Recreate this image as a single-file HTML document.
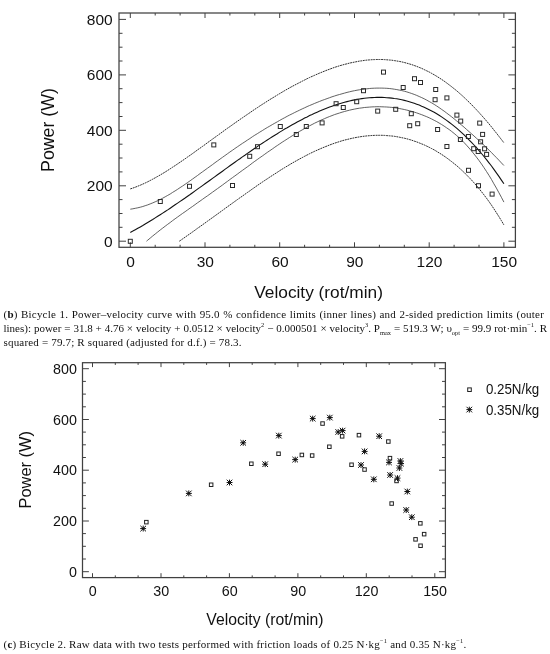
<!DOCTYPE html>
<html><head><meta charset="utf-8"><title>Figure</title>
<style>
html,body{margin:0;padding:0;background:#fff}
#wrap{position:relative;width:550px;height:654px;overflow:hidden;background:#fff}
svg{position:absolute;left:0;top:0}
svg text{font-family:"Liberation Sans",Arial,Helvetica,sans-serif;fill:#111}
.cap{position:absolute;left:3.5px;width:543px;font-family:"Liberation Serif","Times New Roman",serif;font-size:11px;line-height:14px;color:#111;white-space:nowrap;text-align:justify;text-align-last:justify}
.cap.last{text-align-last:left;text-align:left}
.cap sup,.cap sub{font-size:6.4px;line-height:0}
</style></head><body>
<div id="wrap">
<svg width="550" height="654" viewBox="0 0 550 654">
<rect x="119.0" y="13.0" width="396.4" height="234.3" fill="none" stroke="#404040" stroke-width="1.25"/>
<path d="M130.3 247.3 v-5 M130.3 13.0 v5 M155.2 247.3 v-2.5 M155.2 13.0 v2.5 M180.1 247.3 v-2.5 M180.1 13.0 v2.5 M205.0 247.3 v-5 M205.0 13.0 v5 M229.9 247.3 v-2.5 M229.9 13.0 v2.5 M254.8 247.3 v-2.5 M254.8 13.0 v2.5 M279.7 247.3 v-5 M279.7 13.0 v5 M304.6 247.3 v-2.5 M304.6 13.0 v2.5 M329.6 247.3 v-2.5 M329.6 13.0 v2.5 M354.5 247.3 v-5 M354.5 13.0 v5 M379.4 247.3 v-2.5 M379.4 13.0 v2.5 M404.3 247.3 v-2.5 M404.3 13.0 v2.5 M429.2 247.3 v-5 M429.2 13.0 v5 M454.1 247.3 v-2.5 M454.1 13.0 v2.5 M479.0 247.3 v-2.5 M479.0 13.0 v2.5 M503.9 247.3 v-5 M503.9 13.0 v5 M119.0 241.2 h7 M515.4 241.2 h-7 M119.0 227.3 h3.5 M515.4 227.3 h-3.5 M119.0 213.5 h3.5 M515.4 213.5 h-3.5 M119.0 199.6 h3.5 M515.4 199.6 h-3.5 M119.0 185.8 h7 M515.4 185.8 h-7 M119.0 171.9 h3.5 M515.4 171.9 h-3.5 M119.0 158.0 h3.5 M515.4 158.0 h-3.5 M119.0 144.2 h3.5 M515.4 144.2 h-3.5 M119.0 130.3 h7 M515.4 130.3 h-7 M119.0 116.5 h3.5 M515.4 116.5 h-3.5 M119.0 102.6 h3.5 M515.4 102.6 h-3.5 M119.0 88.7 h3.5 M515.4 88.7 h-3.5 M119.0 74.9 h7 M515.4 74.9 h-7 M119.0 61.0 h3.5 M515.4 61.0 h-3.5 M119.0 47.2 h3.5 M515.4 47.2 h-3.5 M119.0 33.3 h3.5 M515.4 33.3 h-3.5 M119.0 19.4 h7 M515.4 19.4 h-7" fill="none" stroke="#404040" stroke-width="1"/>
<path d="M130.3 188.9 L132.8 188.1 L135.3 187.2 L137.8 186.2 L140.3 185.2 L142.8 184.1 L145.2 183.0 L147.7 181.8 L150.2 180.5 L152.7 179.2 L155.2 177.8 L157.7 176.4 L160.2 175.0 L162.7 173.5 L165.2 172.0 L167.7 170.4 L170.2 168.8 L172.6 167.2 L175.1 165.6 L177.6 163.9 L180.1 162.2 L182.6 160.5 L185.1 158.8 L187.6 157.0 L190.1 155.3 L192.6 153.5 L195.1 151.7 L197.5 149.9 L200.0 148.2 L202.5 146.4 L205.0 144.6 L207.5 142.7 L210.0 140.9 L212.5 139.1 L215.0 137.3 L217.5 135.5 L220.0 133.7 L222.5 131.9 L224.9 130.1 L227.4 128.3 L229.9 126.6 L232.4 124.8 L234.9 123.0 L237.4 121.3 L239.9 119.5 L242.4 117.8 L244.9 116.1 L247.4 114.4 L249.9 112.7 L252.3 111.0 L254.8 109.3 L257.3 107.7 L259.8 106.0 L262.3 104.4 L264.8 102.8 L267.3 101.2 L269.8 99.6 L272.3 98.1 L274.8 96.6 L277.3 95.0 L279.7 93.6 L282.2 92.1 L284.7 90.6 L287.2 89.2 L289.7 87.8 L292.2 86.4 L294.7 85.1 L297.2 83.8 L299.7 82.5 L302.2 81.2 L304.6 80.0 L307.1 78.7 L309.6 77.5 L312.1 76.4 L314.6 75.3 L317.1 74.2 L319.6 73.1 L322.1 72.1 L324.6 71.1 L327.1 70.1 L329.6 69.2 L332.0 68.3 L334.5 67.4 L337.0 66.6 L339.5 65.8 L342.0 65.1 L344.5 64.4 L347.0 63.8 L349.5 63.1 L352.0 62.6 L354.5 62.1 L357.0 61.6 L359.4 61.1 L361.9 60.8 L364.4 60.4 L366.9 60.1 L369.4 59.9 L371.9 59.7 L374.4 59.6 L376.9 59.5 L379.4 59.5 L381.9 59.5 L384.4 59.6 L386.8 59.8 L389.3 60.0 L391.8 60.2 L394.3 60.6 L396.8 61.0 L399.3 61.4 L401.8 61.9 L404.3 62.5 L406.8 63.2 L409.3 63.9 L411.7 64.6 L414.2 65.5 L416.7 66.4 L419.2 67.4 L421.7 68.4 L424.2 69.6 L426.7 70.8 L429.2 72.0 L431.7 73.4 L434.2 74.8 L436.7 76.3 L439.1 77.8 L441.6 79.4 L444.1 81.1 L446.6 82.9 L449.1 84.8 L451.6 86.7 L454.1 88.7 L456.6 90.7 L459.1 92.9 L461.6 95.1 L464.1 97.4 L466.5 99.7 L469.0 102.1 L471.5 104.6 L474.0 107.2 L476.5 109.8 L479.0 112.5 L481.5 115.3 L484.0 118.1 L486.5 121.0 L489.0 123.9 L491.5 126.9 L493.9 130.0 L496.4 133.1 L498.9 136.3 L501.4 139.5 L503.9 142.8" fill="none" stroke="#222" stroke-width="0.95" stroke-dasharray="1.9 0.7"/>
<path d="M179.3 241.2 L180.1 240.7 L182.6 238.9 L185.1 237.2 L187.6 235.4 L190.1 233.7 L192.6 231.9 L195.1 230.1 L197.5 228.3 L200.0 226.6 L202.5 224.8 L205.0 223.0 L207.5 221.2 L210.0 219.4 L212.5 217.6 L215.0 215.8 L217.5 214.0 L220.0 212.2 L222.5 210.4 L224.9 208.6 L227.4 206.8 L229.9 205.0 L232.4 203.2 L234.9 201.4 L237.4 199.6 L239.9 197.8 L242.4 196.1 L244.9 194.3 L247.4 192.5 L249.9 190.8 L252.3 189.0 L254.8 187.3 L257.3 185.5 L259.8 183.8 L262.3 182.1 L264.8 180.4 L267.3 178.8 L269.8 177.1 L272.3 175.5 L274.8 173.9 L277.3 172.3 L279.7 170.7 L282.2 169.1 L284.7 167.6 L287.2 166.1 L289.7 164.6 L292.2 163.1 L294.7 161.7 L297.2 160.3 L299.7 158.9 L302.2 157.6 L304.6 156.3 L307.1 155.0 L309.6 153.7 L312.1 152.5 L314.6 151.3 L317.1 150.2 L319.6 149.1 L322.1 148.0 L324.6 147.0 L327.1 146.0 L329.6 145.0 L332.0 144.1 L334.5 143.2 L337.0 142.4 L339.5 141.6 L342.0 140.8 L344.5 140.1 L347.0 139.5 L349.5 138.9 L352.0 138.3 L354.5 137.8 L357.0 137.3 L359.4 136.9 L361.9 136.5 L364.4 136.2 L366.9 135.9 L369.4 135.7 L371.9 135.5 L374.4 135.4 L376.9 135.3 L379.4 135.3 L381.9 135.3 L384.4 135.4 L386.8 135.6 L389.3 135.8 L391.8 136.0 L394.3 136.3 L396.8 136.7 L399.3 137.2 L401.8 137.7 L404.3 138.2 L406.8 138.8 L409.3 139.5 L411.7 140.2 L414.2 141.1 L416.7 141.9 L419.2 142.9 L421.7 143.9 L424.2 144.9 L426.7 146.1 L429.2 147.3 L431.7 148.6 L434.2 149.9 L436.7 151.4 L439.1 152.9 L441.6 154.4 L444.1 156.1 L446.6 157.8 L449.1 159.7 L451.6 161.6 L454.1 163.6 L456.6 165.6 L459.1 167.8 L461.6 170.1 L464.1 172.4 L466.5 174.9 L469.0 177.4 L471.5 180.0 L474.0 182.8 L476.5 185.7 L479.0 188.6 L481.5 191.7 L484.0 194.9 L486.5 198.2 L489.0 201.6 L491.5 205.2 L493.9 208.8 L496.4 212.7 L498.9 216.6 L501.4 220.7 L503.9 224.9" fill="none" stroke="#222" stroke-width="0.95" stroke-dasharray="1.9 0.7"/>
<path d="M130.3 209.2 L132.8 208.8 L135.3 208.3 L137.8 207.8 L140.3 207.2 L142.8 206.5 L145.2 205.7 L147.7 204.9 L150.2 203.9 L152.7 202.9 L155.2 201.8 L157.7 200.7 L160.2 199.5 L162.7 198.2 L165.2 196.8 L167.7 195.4 L170.2 194.0 L172.6 192.4 L175.1 190.9 L177.6 189.3 L180.1 187.6 L182.6 186.0 L185.1 184.3 L187.6 182.5 L190.1 180.8 L192.6 179.0 L195.1 177.2 L197.5 175.5 L200.0 173.6 L202.5 171.8 L205.0 170.0 L207.5 168.2 L210.0 166.4 L212.5 164.6 L215.0 162.7 L217.5 160.9 L220.0 159.1 L222.5 157.3 L224.9 155.6 L227.4 153.8 L229.9 152.0 L232.4 150.3 L234.9 148.5 L237.4 146.8 L239.9 145.1 L242.4 143.4 L244.9 141.8 L247.4 140.1 L249.9 138.5 L252.3 136.8 L254.8 135.2 L257.3 133.7 L259.8 132.1 L262.3 130.6 L264.8 129.0 L267.3 127.5 L269.8 126.1 L272.3 124.6 L274.8 123.2 L277.3 121.8 L279.7 120.4 L282.2 119.0 L284.7 117.7 L287.2 116.3 L289.7 115.0 L292.2 113.8 L294.7 112.5 L297.2 111.3 L299.7 110.1 L302.2 108.9 L304.6 107.8 L307.1 106.6 L309.6 105.5 L312.1 104.5 L314.6 103.4 L317.1 102.4 L319.6 101.4 L322.1 100.4 L324.6 99.5 L327.1 98.6 L329.6 97.7 L332.0 96.8 L334.5 96.0 L337.0 95.2 L339.5 94.5 L342.0 93.8 L344.5 93.1 L347.0 92.4 L349.5 91.8 L352.0 91.2 L354.5 90.7 L357.0 90.2 L359.4 89.8 L361.9 89.4 L364.4 89.1 L366.9 88.8 L369.4 88.5 L371.9 88.3 L374.4 88.2 L376.9 88.1 L379.4 88.1 L381.9 88.1 L384.4 88.2 L386.8 88.3 L389.3 88.5 L391.8 88.8 L394.3 89.2 L396.8 89.6 L399.3 90.1 L401.8 90.6 L404.3 91.2 L406.8 91.9 L409.3 92.7 L411.7 93.5 L414.2 94.4 L416.7 95.4 L419.2 96.5 L421.7 97.6 L424.2 98.8 L426.7 100.1 L429.2 101.5 L431.7 102.9 L434.2 104.4 L436.7 106.0 L439.1 107.6 L441.6 109.4 L444.1 111.1 L446.6 113.0 L449.1 114.9 L451.6 116.8 L454.1 118.8 L456.6 120.9 L459.1 123.0 L461.6 125.1 L464.1 127.2 L466.5 129.4 L469.0 131.6 L471.5 133.8 L474.0 136.0 L476.5 138.3 L479.0 140.6 L481.5 142.9 L484.0 145.3 L486.5 147.7 L489.0 150.1 L491.5 152.6 L493.9 155.1 L496.4 157.6 L498.9 160.2 L501.4 162.9 L503.9 165.5" fill="none" stroke="#3a3a3a" stroke-width="0.8"/>
<path d="M146.5 241.2 L147.7 240.2 L150.2 238.1 L152.7 236.0 L155.2 234.0 L157.7 232.0 L160.2 230.0 L162.7 228.1 L165.2 226.2 L167.7 224.3 L170.2 222.5 L172.6 220.6 L175.1 218.8 L177.6 217.0 L180.1 215.2 L182.6 213.4 L185.1 211.7 L187.6 209.9 L190.1 208.1 L192.6 206.4 L195.1 204.6 L197.5 202.8 L200.0 201.1 L202.5 199.3 L205.0 197.5 L207.5 195.8 L210.0 194.0 L212.5 192.2 L215.0 190.4 L217.5 188.6 L220.0 186.8 L222.5 185.0 L224.9 183.2 L227.4 181.4 L229.9 179.5 L232.4 177.7 L234.9 175.9 L237.4 174.1 L239.9 172.2 L242.4 170.4 L244.9 168.6 L247.4 166.8 L249.9 165.0 L252.3 163.1 L254.8 161.3 L257.3 159.5 L259.8 157.7 L262.3 156.0 L264.8 154.2 L267.3 152.4 L269.8 150.7 L272.3 149.0 L274.8 147.2 L277.3 145.5 L279.7 143.9 L282.2 142.2 L284.7 140.6 L287.2 139.0 L289.7 137.4 L292.2 135.8 L294.7 134.3 L297.2 132.8 L299.7 131.3 L302.2 129.9 L304.6 128.5 L307.1 127.1 L309.6 125.8 L312.1 124.5 L314.6 123.2 L317.1 122.0 L319.6 120.8 L322.1 119.7 L324.6 118.6 L327.1 117.5 L329.6 116.5 L332.0 115.6 L334.5 114.6 L337.0 113.8 L339.5 113.0 L342.0 112.2 L344.5 111.5 L347.0 110.8 L349.5 110.2 L352.0 109.6 L354.5 109.1 L357.0 108.6 L359.4 108.2 L361.9 107.9 L364.4 107.5 L366.9 107.3 L369.4 107.1 L371.9 106.9 L374.4 106.8 L376.9 106.7 L379.4 106.7 L381.9 106.8 L384.4 106.9 L386.8 107.0 L389.3 107.2 L391.8 107.4 L394.3 107.7 L396.8 108.1 L399.3 108.5 L401.8 109.0 L404.3 109.5 L406.8 110.1 L409.3 110.7 L411.7 111.4 L414.2 112.1 L416.7 112.9 L419.2 113.8 L421.7 114.7 L424.2 115.7 L426.7 116.7 L429.2 117.8 L431.7 119.0 L434.2 120.3 L436.7 121.6 L439.1 123.0 L441.6 124.5 L444.1 126.1 L446.6 127.8 L449.1 129.5 L451.6 131.4 L454.1 133.4 L456.6 135.5 L459.1 137.7 L461.6 140.1 L464.1 142.6 L466.5 145.2 L469.0 148.0 L471.5 150.9 L474.0 154.0 L476.5 157.2 L479.0 160.5 L481.5 164.0 L484.0 167.7 L486.5 171.5 L489.0 175.4 L491.5 179.5 L493.9 183.8 L496.4 188.1 L498.9 192.7 L501.4 197.3 L503.9 202.1" fill="none" stroke="#3a3a3a" stroke-width="0.8"/>
<path d="M130.3 232.4 L132.8 231.1 L135.3 229.7 L137.8 228.3 L140.3 226.9 L142.8 225.5 L145.2 224.0 L147.7 222.5 L150.2 221.0 L152.7 219.5 L155.2 217.9 L157.7 216.3 L160.2 214.7 L162.7 213.1 L165.2 211.5 L167.7 209.9 L170.2 208.2 L172.6 206.5 L175.1 204.8 L177.6 203.1 L180.1 201.4 L182.6 199.7 L185.1 198.0 L187.6 196.2 L190.1 194.5 L192.6 192.7 L195.1 190.9 L197.5 189.1 L200.0 187.4 L202.5 185.6 L205.0 183.8 L207.5 182.0 L210.0 180.2 L212.5 178.4 L215.0 176.6 L217.5 174.8 L220.0 173.0 L222.5 171.2 L224.9 169.4 L227.4 167.6 L229.9 165.8 L232.4 164.0 L234.9 162.2 L237.4 160.4 L239.9 158.7 L242.4 156.9 L244.9 155.2 L247.4 153.4 L249.9 151.7 L252.3 150.0 L254.8 148.3 L257.3 146.6 L259.8 144.9 L262.3 143.3 L264.8 141.6 L267.3 140.0 L269.8 138.4 L272.3 136.8 L274.8 135.2 L277.3 133.7 L279.7 132.1 L282.2 130.6 L284.7 129.1 L287.2 127.7 L289.7 126.2 L292.2 124.8 L294.7 123.4 L297.2 122.0 L299.7 120.7 L302.2 119.4 L304.6 118.1 L307.1 116.9 L309.6 115.6 L312.1 114.5 L314.6 113.3 L317.1 112.2 L319.6 111.1 L322.1 110.0 L324.6 109.0 L327.1 108.0 L329.6 107.1 L332.0 106.2 L334.5 105.3 L337.0 104.5 L339.5 103.7 L342.0 103.0 L344.5 102.3 L347.0 101.6 L349.5 101.0 L352.0 100.4 L354.5 99.9 L357.0 99.4 L359.4 99.0 L361.9 98.6 L364.4 98.3 L366.9 98.0 L369.4 97.8 L371.9 97.6 L374.4 97.5 L376.9 97.4 L379.4 97.4 L381.9 97.4 L384.4 97.5 L386.8 97.7 L389.3 97.9 L391.8 98.1 L394.3 98.5 L396.8 98.8 L399.3 99.3 L401.8 99.8 L404.3 100.4 L406.8 101.0 L409.3 101.7 L411.7 102.4 L414.2 103.3 L416.7 104.2 L419.2 105.1 L421.7 106.2 L424.2 107.2 L426.7 108.4 L429.2 109.7 L431.7 111.0 L434.2 112.3 L436.7 113.8 L439.1 115.3 L441.6 116.9 L444.1 118.6 L446.6 120.4 L449.1 122.2 L451.6 124.1 L454.1 126.1 L456.6 128.2 L459.1 130.3 L461.6 132.6 L464.1 134.9 L466.5 137.3 L469.0 139.8 L471.5 142.3 L474.0 145.0 L476.5 147.7 L479.0 150.6 L481.5 153.5 L484.0 156.5 L486.5 159.6 L489.0 162.8 L491.5 166.0 L493.9 169.4 L496.4 172.9 L498.9 176.4 L501.4 180.1 L503.9 183.8" fill="none" stroke="#111" stroke-width="1.1"/>
<rect x="128.3" y="239.3" width="4.0" height="4.0" fill="#fff" fill-opacity="0" stroke="#2b2b2b" stroke-width="1.0"/>
<rect x="158.3" y="199.5" width="4.0" height="4.0" fill="#fff" fill-opacity="0" stroke="#2b2b2b" stroke-width="1.0"/>
<rect x="187.5" y="184.3" width="4.0" height="4.0" fill="#fff" fill-opacity="0" stroke="#2b2b2b" stroke-width="1.0"/>
<rect x="211.8" y="142.9" width="4.0" height="4.0" fill="#fff" fill-opacity="0" stroke="#2b2b2b" stroke-width="1.0"/>
<rect x="230.5" y="183.5" width="4.0" height="4.0" fill="#fff" fill-opacity="0" stroke="#2b2b2b" stroke-width="1.0"/>
<rect x="247.7" y="154.3" width="4.0" height="4.0" fill="#fff" fill-opacity="0" stroke="#2b2b2b" stroke-width="1.0"/>
<rect x="255.5" y="144.7" width="4.0" height="4.0" fill="#fff" fill-opacity="0" stroke="#2b2b2b" stroke-width="1.0"/>
<rect x="278.3" y="124.5" width="4.0" height="4.0" fill="#fff" fill-opacity="0" stroke="#2b2b2b" stroke-width="1.0"/>
<rect x="294.3" y="132.5" width="4.0" height="4.0" fill="#fff" fill-opacity="0" stroke="#2b2b2b" stroke-width="1.0"/>
<rect x="304.3" y="124.5" width="4.0" height="4.0" fill="#fff" fill-opacity="0" stroke="#2b2b2b" stroke-width="1.0"/>
<rect x="320.1" y="120.9" width="4.0" height="4.0" fill="#fff" fill-opacity="0" stroke="#2b2b2b" stroke-width="1.0"/>
<rect x="334.1" y="101.7" width="4.0" height="4.0" fill="#fff" fill-opacity="0" stroke="#2b2b2b" stroke-width="1.0"/>
<rect x="341.3" y="105.5" width="4.0" height="4.0" fill="#fff" fill-opacity="0" stroke="#2b2b2b" stroke-width="1.0"/>
<rect x="354.7" y="99.7" width="4.0" height="4.0" fill="#fff" fill-opacity="0" stroke="#2b2b2b" stroke-width="1.0"/>
<rect x="361.5" y="88.7" width="4.0" height="4.0" fill="#fff" fill-opacity="0" stroke="#2b2b2b" stroke-width="1.0"/>
<rect x="375.7" y="109.1" width="4.0" height="4.0" fill="#fff" fill-opacity="0" stroke="#2b2b2b" stroke-width="1.0"/>
<rect x="381.5" y="70.1" width="4.0" height="4.0" fill="#fff" fill-opacity="0" stroke="#2b2b2b" stroke-width="1.0"/>
<rect x="393.7" y="107.3" width="4.0" height="4.0" fill="#fff" fill-opacity="0" stroke="#2b2b2b" stroke-width="1.0"/>
<rect x="401.2" y="85.5" width="4.0" height="4.0" fill="#fff" fill-opacity="0" stroke="#2b2b2b" stroke-width="1.0"/>
<rect x="412.5" y="76.7" width="4.0" height="4.0" fill="#fff" fill-opacity="0" stroke="#2b2b2b" stroke-width="1.0"/>
<rect x="418.5" y="80.5" width="4.0" height="4.0" fill="#fff" fill-opacity="0" stroke="#2b2b2b" stroke-width="1.0"/>
<rect x="409.3" y="111.7" width="4.0" height="4.0" fill="#fff" fill-opacity="0" stroke="#2b2b2b" stroke-width="1.0"/>
<rect x="407.7" y="123.7" width="4.0" height="4.0" fill="#fff" fill-opacity="0" stroke="#2b2b2b" stroke-width="1.0"/>
<rect x="415.7" y="121.7" width="4.0" height="4.0" fill="#fff" fill-opacity="0" stroke="#2b2b2b" stroke-width="1.0"/>
<rect x="433.7" y="87.5" width="4.0" height="4.0" fill="#fff" fill-opacity="0" stroke="#2b2b2b" stroke-width="1.0"/>
<rect x="433.1" y="97.7" width="4.0" height="4.0" fill="#fff" fill-opacity="0" stroke="#2b2b2b" stroke-width="1.0"/>
<rect x="444.9" y="95.9" width="4.0" height="4.0" fill="#fff" fill-opacity="0" stroke="#2b2b2b" stroke-width="1.0"/>
<rect x="435.6" y="127.5" width="4.0" height="4.0" fill="#fff" fill-opacity="0" stroke="#2b2b2b" stroke-width="1.0"/>
<rect x="454.9" y="113.1" width="4.0" height="4.0" fill="#fff" fill-opacity="0" stroke="#2b2b2b" stroke-width="1.0"/>
<rect x="458.7" y="119.1" width="4.0" height="4.0" fill="#fff" fill-opacity="0" stroke="#2b2b2b" stroke-width="1.0"/>
<rect x="444.9" y="144.5" width="4.0" height="4.0" fill="#fff" fill-opacity="0" stroke="#2b2b2b" stroke-width="1.0"/>
<rect x="458.4" y="137.5" width="4.0" height="4.0" fill="#fff" fill-opacity="0" stroke="#2b2b2b" stroke-width="1.0"/>
<rect x="466.4" y="134.5" width="4.0" height="4.0" fill="#fff" fill-opacity="0" stroke="#2b2b2b" stroke-width="1.0"/>
<rect x="477.7" y="121.1" width="4.0" height="4.0" fill="#fff" fill-opacity="0" stroke="#2b2b2b" stroke-width="1.0"/>
<rect x="480.6" y="132.4" width="4.0" height="4.0" fill="#fff" fill-opacity="0" stroke="#2b2b2b" stroke-width="1.0"/>
<rect x="478.6" y="139.8" width="4.0" height="4.0" fill="#fff" fill-opacity="0" stroke="#2b2b2b" stroke-width="1.0"/>
<rect x="471.7" y="146.7" width="4.0" height="4.0" fill="#fff" fill-opacity="0" stroke="#2b2b2b" stroke-width="1.0"/>
<rect x="476.2" y="149.5" width="4.0" height="4.0" fill="#fff" fill-opacity="0" stroke="#2b2b2b" stroke-width="1.0"/>
<rect x="482.6" y="146.8" width="4.0" height="4.0" fill="#fff" fill-opacity="0" stroke="#2b2b2b" stroke-width="1.0"/>
<rect x="484.6" y="152.4" width="4.0" height="4.0" fill="#fff" fill-opacity="0" stroke="#2b2b2b" stroke-width="1.0"/>
<rect x="466.5" y="168.3" width="4.0" height="4.0" fill="#fff" fill-opacity="0" stroke="#2b2b2b" stroke-width="1.0"/>
<rect x="476.5" y="183.7" width="4.0" height="4.0" fill="#fff" fill-opacity="0" stroke="#2b2b2b" stroke-width="1.0"/>
<rect x="490.1" y="192.1" width="4.0" height="4.0" fill="#fff" fill-opacity="0" stroke="#2b2b2b" stroke-width="1.0"/>
<text x="130.6" y="267.0" font-size="15.5" text-anchor="middle">0</text>
<text x="205.3" y="267.0" font-size="15.5" text-anchor="middle">30</text>
<text x="280.0" y="267.0" font-size="15.5" text-anchor="middle">60</text>
<text x="354.8" y="267.0" font-size="15.5" text-anchor="middle">90</text>
<text x="429.5" y="267.0" font-size="15.5" text-anchor="middle">120</text>
<text x="504.2" y="267.0" font-size="15.5" text-anchor="middle">150</text>
<text x="112.7" y="246.7" font-size="15.5" text-anchor="end">0</text>
<text x="112.7" y="191.3" font-size="15.5" text-anchor="end">200</text>
<text x="112.7" y="135.8" font-size="15.5" text-anchor="end">400</text>
<text x="112.7" y="80.4" font-size="15.5" text-anchor="end">600</text>
<text x="112.7" y="24.9" font-size="15.5" text-anchor="end">800</text>
<text x="318.6" y="298.0" font-size="17.3" text-anchor="middle">Velocity (rot/min)</text>
<text transform="translate(54.0 130.0) rotate(-90)" font-size="17.8" text-anchor="middle">Power (W)</text>
<rect x="82.5" y="362.7" width="362.9" height="214.9" fill="none" stroke="#404040" stroke-width="1.25"/>
<path d="M92.5 577.6 v-4.4 M92.5 362.7 v4.4 M115.3 577.6 v-2.2 M115.3 362.7 v2.2 M138.1 577.6 v-2.2 M138.1 362.7 v2.2 M161.0 577.6 v-4.4 M161.0 362.7 v4.4 M183.8 577.6 v-2.2 M183.8 362.7 v2.2 M206.6 577.6 v-2.2 M206.6 362.7 v2.2 M229.4 577.6 v-4.4 M229.4 362.7 v4.4 M252.2 577.6 v-2.2 M252.2 362.7 v2.2 M275.1 577.6 v-2.2 M275.1 362.7 v2.2 M297.9 577.6 v-4.4 M297.9 362.7 v4.4 M320.7 577.6 v-2.2 M320.7 362.7 v2.2 M343.5 577.6 v-2.2 M343.5 362.7 v2.2 M366.3 577.6 v-4.4 M366.3 362.7 v4.4 M389.2 577.6 v-2.2 M389.2 362.7 v2.2 M412.0 577.6 v-2.2 M412.0 362.7 v2.2 M434.8 577.6 v-4.4 M434.8 362.7 v4.4 M82.5 571.7 h6.4 M445.4 571.7 h-6.4 M82.5 559.0 h3.4 M445.4 559.0 h-3.4 M82.5 546.3 h3.4 M445.4 546.3 h-3.4 M82.5 533.6 h3.4 M445.4 533.6 h-3.4 M82.5 521.0 h6.4 M445.4 521.0 h-6.4 M82.5 508.3 h3.4 M445.4 508.3 h-3.4 M82.5 495.6 h3.4 M445.4 495.6 h-3.4 M82.5 482.9 h3.4 M445.4 482.9 h-3.4 M82.5 470.2 h6.4 M445.4 470.2 h-6.4 M82.5 457.5 h3.4 M445.4 457.5 h-3.4 M82.5 444.8 h3.4 M445.4 444.8 h-3.4 M82.5 432.1 h3.4 M445.4 432.1 h-3.4 M82.5 419.5 h6.4 M445.4 419.5 h-6.4 M82.5 406.8 h3.4 M445.4 406.8 h-3.4 M82.5 394.1 h3.4 M445.4 394.1 h-3.4 M82.5 381.4 h3.4 M445.4 381.4 h-3.4 M82.5 368.7 h6.4 M445.4 368.7 h-6.4" fill="none" stroke="#404040" stroke-width="1"/>
<rect x="144.6" y="520.4" width="3.5" height="3.5" fill="#fff" fill-opacity="0" stroke="#222" stroke-width="1.0"/>
<rect x="209.4" y="483.0" width="3.5" height="3.5" fill="#fff" fill-opacity="0" stroke="#222" stroke-width="1.0"/>
<rect x="249.6" y="462.0" width="3.5" height="3.5" fill="#fff" fill-opacity="0" stroke="#222" stroke-width="1.0"/>
<rect x="276.8" y="452.0" width="3.5" height="3.5" fill="#fff" fill-opacity="0" stroke="#222" stroke-width="1.0"/>
<rect x="300.1" y="453.2" width="3.5" height="3.5" fill="#fff" fill-opacity="0" stroke="#222" stroke-width="1.0"/>
<rect x="310.4" y="453.8" width="3.5" height="3.5" fill="#fff" fill-opacity="0" stroke="#222" stroke-width="1.0"/>
<rect x="320.8" y="421.8" width="3.5" height="3.5" fill="#fff" fill-opacity="0" stroke="#222" stroke-width="1.0"/>
<rect x="327.6" y="445.0" width="3.5" height="3.5" fill="#fff" fill-opacity="0" stroke="#222" stroke-width="1.0"/>
<rect x="340.4" y="434.6" width="3.5" height="3.5" fill="#fff" fill-opacity="0" stroke="#222" stroke-width="1.0"/>
<rect x="357.2" y="433.4" width="3.5" height="3.5" fill="#fff" fill-opacity="0" stroke="#222" stroke-width="1.0"/>
<rect x="386.6" y="439.8" width="3.5" height="3.5" fill="#fff" fill-opacity="0" stroke="#222" stroke-width="1.0"/>
<rect x="349.8" y="463.0" width="3.5" height="3.5" fill="#fff" fill-opacity="0" stroke="#222" stroke-width="1.0"/>
<rect x="362.8" y="467.8" width="3.5" height="3.5" fill="#fff" fill-opacity="0" stroke="#222" stroke-width="1.0"/>
<rect x="388.2" y="456.4" width="3.5" height="3.5" fill="#fff" fill-opacity="0" stroke="#222" stroke-width="1.0"/>
<rect x="394.8" y="479.2" width="3.5" height="3.5" fill="#fff" fill-opacity="0" stroke="#222" stroke-width="1.0"/>
<rect x="389.9" y="501.8" width="3.5" height="3.5" fill="#fff" fill-opacity="0" stroke="#222" stroke-width="1.0"/>
<rect x="418.6" y="521.6" width="3.5" height="3.5" fill="#fff" fill-opacity="0" stroke="#222" stroke-width="1.0"/>
<rect x="422.4" y="532.4" width="3.5" height="3.5" fill="#fff" fill-opacity="0" stroke="#222" stroke-width="1.0"/>
<rect x="413.8" y="537.6" width="3.5" height="3.5" fill="#fff" fill-opacity="0" stroke="#222" stroke-width="1.0"/>
<rect x="418.8" y="544.0" width="3.5" height="3.5" fill="#fff" fill-opacity="0" stroke="#222" stroke-width="1.0"/>
<path d="M140.2 528.6h5.9M143.2 525.6v5.9M140.4 525.8l5.6 5.6M140.4 531.4l5.6 -5.6" stroke="#111" stroke-width="1.0" fill="none"/><circle cx="143.2" cy="528.6" r="1.1" fill="#111"/>
<path d="M185.9 493.4h5.9M188.8 490.4v5.9M186.0 490.6l5.6 5.6M186.0 496.2l5.6 -5.6" stroke="#111" stroke-width="1.0" fill="none"/><circle cx="188.8" cy="493.4" r="1.1" fill="#111"/>
<path d="M226.6 482.5h5.9M229.5 479.6v5.9M226.7 479.7l5.6 5.6M226.7 485.3l5.6 -5.6" stroke="#111" stroke-width="1.0" fill="none"/><circle cx="229.5" cy="482.5" r="1.1" fill="#111"/>
<path d="M240.2 442.8h5.9M243.2 439.9v5.9M240.4 440.0l5.6 5.6M240.4 445.6l5.6 -5.6" stroke="#111" stroke-width="1.0" fill="none"/><circle cx="243.2" cy="442.8" r="1.1" fill="#111"/>
<path d="M262.2 464.2h5.9M265.2 461.2v5.9M262.4 461.4l5.6 5.6M262.4 467.0l5.6 -5.6" stroke="#111" stroke-width="1.0" fill="none"/><circle cx="265.2" cy="464.2" r="1.1" fill="#111"/>
<path d="M275.9 435.6h5.9M278.8 432.7v5.9M276.0 432.8l5.6 5.6M276.0 438.4l5.6 -5.6" stroke="#111" stroke-width="1.0" fill="none"/><circle cx="278.8" cy="435.6" r="1.1" fill="#111"/>
<path d="M292.2 459.6h5.9M295.2 456.7v5.9M292.4 456.8l5.6 5.6M292.4 462.4l5.6 -5.6" stroke="#111" stroke-width="1.0" fill="none"/><circle cx="295.2" cy="459.6" r="1.1" fill="#111"/>
<path d="M309.8 418.6h5.9M312.7 415.7v5.9M309.9 415.8l5.6 5.6M309.9 421.4l5.6 -5.6" stroke="#111" stroke-width="1.0" fill="none"/><circle cx="312.7" cy="418.6" r="1.1" fill="#111"/>
<path d="M326.9 417.6h5.9M329.8 414.7v5.9M327.0 414.8l5.6 5.6M327.0 420.4l5.6 -5.6" stroke="#111" stroke-width="1.0" fill="none"/><circle cx="329.8" cy="417.6" r="1.1" fill="#111"/>
<path d="M335.2 432.0h5.9M338.2 429.1v5.9M335.4 429.2l5.6 5.6M335.4 434.8l5.6 -5.6" stroke="#111" stroke-width="1.0" fill="none"/><circle cx="338.2" cy="432.0" r="1.1" fill="#111"/>
<path d="M339.7 430.6h5.9M342.6 427.7v5.9M339.8 427.8l5.6 5.6M339.8 433.4l5.6 -5.6" stroke="#111" stroke-width="1.0" fill="none"/><circle cx="342.6" cy="430.6" r="1.1" fill="#111"/>
<path d="M376.2 436.2h5.9M379.2 433.2v5.9M376.4 433.4l5.6 5.6M376.4 439.0l5.6 -5.6" stroke="#111" stroke-width="1.0" fill="none"/><circle cx="379.2" cy="436.2" r="1.1" fill="#111"/>
<path d="M361.7 451.4h5.9M364.6 448.4v5.9M361.8 448.6l5.6 5.6M361.8 454.2l5.6 -5.6" stroke="#111" stroke-width="1.0" fill="none"/><circle cx="364.6" cy="451.4" r="1.1" fill="#111"/>
<path d="M358.1 465.0h5.9M361.0 462.1v5.9M358.2 462.2l5.6 5.6M358.2 467.8l5.6 -5.6" stroke="#111" stroke-width="1.0" fill="none"/><circle cx="361.0" cy="465.0" r="1.1" fill="#111"/>
<path d="M370.9 479.3h5.9M373.8 476.4v5.9M371.0 476.5l5.6 5.6M371.0 482.1l5.6 -5.6" stroke="#111" stroke-width="1.0" fill="none"/><circle cx="373.8" cy="479.3" r="1.1" fill="#111"/>
<path d="M386.1 462.4h5.9M389.0 459.4v5.9M386.2 459.6l5.6 5.6M386.2 465.2l5.6 -5.6" stroke="#111" stroke-width="1.0" fill="none"/><circle cx="389.0" cy="462.4" r="1.1" fill="#111"/>
<path d="M397.4 461.0h5.9M400.4 458.1v5.9M397.6 458.2l5.6 5.6M397.6 463.8l5.6 -5.6" stroke="#111" stroke-width="1.0" fill="none"/><circle cx="400.4" cy="461.0" r="1.1" fill="#111"/>
<path d="M398.1 463.6h5.9M401.0 460.7v5.9M398.2 460.8l5.6 5.6M398.2 466.4l5.6 -5.6" stroke="#111" stroke-width="1.0" fill="none"/><circle cx="401.0" cy="463.6" r="1.1" fill="#111"/>
<path d="M396.4 468.0h5.9M399.4 465.1v5.9M396.6 465.2l5.6 5.6M396.6 470.8l5.6 -5.6" stroke="#111" stroke-width="1.0" fill="none"/><circle cx="399.4" cy="468.0" r="1.1" fill="#111"/>
<path d="M387.2 475.0h5.9M390.1 472.1v5.9M387.3 472.2l5.6 5.6M387.3 477.8l5.6 -5.6" stroke="#111" stroke-width="1.0" fill="none"/><circle cx="390.1" cy="475.0" r="1.1" fill="#111"/>
<path d="M394.6 478.1h5.9M397.5 475.2v5.9M394.7 475.3l5.6 5.6M394.7 480.9l5.6 -5.6" stroke="#111" stroke-width="1.0" fill="none"/><circle cx="397.5" cy="478.1" r="1.1" fill="#111"/>
<path d="M404.4 491.5h5.9M407.3 488.6v5.9M404.5 488.7l5.6 5.6M404.5 494.3l5.6 -5.6" stroke="#111" stroke-width="1.0" fill="none"/><circle cx="407.3" cy="491.5" r="1.1" fill="#111"/>
<path d="M403.2 510.0h5.9M406.2 507.1v5.9M403.4 507.2l5.6 5.6M403.4 512.8l5.6 -5.6" stroke="#111" stroke-width="1.0" fill="none"/><circle cx="406.2" cy="510.0" r="1.1" fill="#111"/>
<path d="M408.9 517.2h5.9M411.8 514.2v5.9M409.0 514.4l5.6 5.6M409.0 520.0l5.6 -5.6" stroke="#111" stroke-width="1.0" fill="none"/><circle cx="411.8" cy="517.2" r="1.1" fill="#111"/>
<rect x="467.7" y="387.9" width="3.6" height="3.6" fill="#fff" fill-opacity="0" stroke="#222" stroke-width="1.0"/>
<path d="M466.4 409.6h5.9M469.3 406.7v5.9M466.5 406.8l5.6 5.6M466.5 412.4l5.6 -5.6" stroke="#111" stroke-width="1.0" fill="none"/><circle cx="469.3" cy="409.6" r="1.1" fill="#111"/>
<text x="485.9" y="394.4" font-size="14.3" textLength="53.4" lengthAdjust="spacingAndGlyphs">0.25N/kg</text>
<text x="485.9" y="414.6" font-size="14.3" textLength="53.4" lengthAdjust="spacingAndGlyphs">0.35N/kg</text>
<text x="92.8" y="595.5" font-size="14.3" text-anchor="middle">0</text>
<text x="161.3" y="595.5" font-size="14.3" text-anchor="middle">30</text>
<text x="229.7" y="595.5" font-size="14.3" text-anchor="middle">60</text>
<text x="298.2" y="595.5" font-size="14.3" text-anchor="middle">90</text>
<text x="366.6" y="595.5" font-size="14.3" text-anchor="middle">120</text>
<text x="435.1" y="595.5" font-size="14.3" text-anchor="middle">150</text>
<text x="76.9" y="576.8" font-size="14.3" text-anchor="end">0</text>
<text x="76.9" y="526.1" font-size="14.3" text-anchor="end">200</text>
<text x="76.9" y="475.3" font-size="14.3" text-anchor="end">400</text>
<text x="76.9" y="424.6" font-size="14.3" text-anchor="end">600</text>
<text x="76.9" y="373.8" font-size="14.3" text-anchor="end">800</text>
<text x="264.9" y="624.7" font-size="16" textLength="117.3" lengthAdjust="spacingAndGlyphs" text-anchor="middle">Velocity (rot/min)</text>
<text transform="translate(30.6 469.8) rotate(-90)" font-size="16.4" text-anchor="middle">Power (W)</text>
</svg>
<div class="cap" style="top:306.8px;width:540.5px;letter-spacing:0.2px">(<b>b</b>) Bicycle 1. Power–velocity curve with 95.0 % confidence limits (inner lines) and 2-sided prediction limits (outer</div>
<div class="cap" style="top:321.1px;width:543.5px;letter-spacing:0.0px">lines): power = 31.8 + 4.76 × velocity + 0.0512 × velocity<sup>2</sup> − 0.000501 × velocity<sup>3</sup>. P<sub>max</sub> = 519.3 W; υ<sub>opt</sub> = 99.9 rot·min<sup>−1</sup>. R</div>
<div class="cap last" style="top:335.3px;letter-spacing:0.18px">squared = 79.7; R squared (adjusted for d.f.) = 78.3.</div>
<div class="cap last" style="top:637.3px;letter-spacing:0.22px">(<b>c</b>) Bicycle 2. Raw data with two tests performed with friction loads of 0.25 N·kg<sup>−1</sup> and 0.35 N·kg<sup>−1</sup>.</div>
</div>
</body></html>
